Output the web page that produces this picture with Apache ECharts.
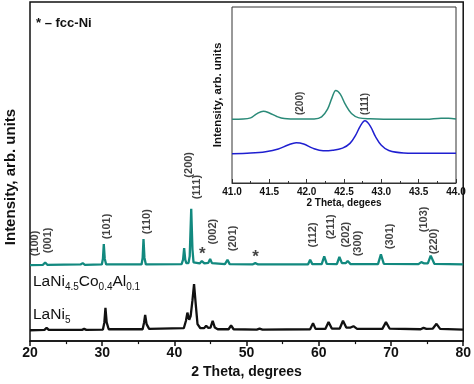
<!DOCTYPE html>
<html><head><meta charset="utf-8">
<script src="https://cdn.jsdelivr.net/npm/echarts@6/dist/echarts.min.js"></script>
<style>html,body{margin:0;padding:0;background:#fff}#c{width:474px;height:384px}</style>
</head><body><div id="c"></div>
<script>
// ---- Main pattern: LaNi4.5Co0.4Al0.1 (teal), [2theta, intensity] ----
const alloyPattern = [
 [20,22.4],[21.8,22.5],[22.1,23.2],[22.4,22.5],[27.0,22.6],[27.3,23.0],[27.6,22.5],
 [29.95,22.6],[30.1,24.3],[30.22,28.6],[30.35,24.3],[30.55,22.6],
 [35.45,22.6],[35.6,24.5],[35.72,30.1],[35.85,24.6],[36.05,22.6],
 [41.0,22.7],[41.2,24.0],[41.35,27.4],[41.5,24.0],[41.65,23.0],[41.95,23.0],
 [42.12,25.0],[42.33,39.0],[42.5,27.0],[42.65,23.2],[43.5,22.9],[43.8,23.6],[44.15,22.9],
 [44.7,23.1],[44.95,24.2],[45.2,23.0],[47.0,22.7],[47.35,24.0],[47.65,22.7],
 [50.8,22.6],[51.2,23.0],[51.6,22.6],[58.5,22.6],[58.8,24.0],[59.1,22.7],
 [60.4,22.7],[60.75,25.0],[61.1,22.8],[62.5,22.7],[62.85,24.8],[63.2,23.0],
 [63.75,23.0],[64.0,23.6],[64.4,22.7],[68.2,22.7],[68.6,25.6],[69.0,22.8],
 [73.8,22.7],[74.2,23.3],[74.6,22.9],[75.1,22.9],[75.5,25.2],[76.0,22.8],[80,22.6]
];
// ---- Main pattern: LaNi5 (black) ----
const lani5Pattern = [
 [20,3.2],[22.0,3.3],[22.3,3.9],[22.6,3.3],[27.2,3.3],[27.5,3.6],[27.8,3.3],
 [30.1,3.4],[30.3,5.5],[30.45,9.8],[30.62,5.5],[30.9,3.5],
 [35.6,3.5],[35.8,5.5],[35.95,7.7],[36.15,5.0],[36.5,3.6],
 [41.3,3.8],[41.6,6.0],[41.8,8.4],[42.05,6.3],[42.25,7.4],[42.5,12.0],[42.72,16.8],
 [42.95,11.0],[43.2,5.0],[43.6,3.8],[44.1,3.8],[44.4,4.5],[44.7,3.9],[45.0,4.0],
 [45.3,6.0],[45.6,4.0],[46.0,3.5],[47.5,3.5],[47.85,4.6],[48.2,3.5],
 [51.4,3.4],[51.8,3.7],[52.2,3.4],[58.8,3.5],[59.2,5.3],[59.55,3.6],
 [60.9,3.6],[61.35,5.6],[61.8,3.7],[62.9,3.7],[63.35,6.0],[63.8,4.0],
 [64.4,4.0],[64.8,4.4],[65.3,3.6],[68.8,3.6],[69.3,5.6],[69.8,3.7],
 [74.1,3.5],[74.5,3.9],[74.9,3.6],[75.8,3.7],[76.3,5.1],[76.8,3.6],[80,3.4]
];
// ---- Inset patterns (41-44 deg) ----
const insetAlloy = [
 [41.0,36.2],[41.15,36.3],[41.25,37.0],[41.33,39.3],[41.42,40.8],[41.5,39.8],[41.6,37.8],
 [41.7,36.6],[41.9,36.3],[42.1,36.4],[42.2,37.6],[42.28,42],[42.34,48.5],[42.39,52.6],
 [42.45,50.5],[42.52,44.5],[42.6,39.5],[42.7,37.0],[42.85,36.5],[43.2,36.2],[43.6,36.2],
 [43.8,36.8],[43.9,36.8],[44.0,36.4]
];
const insetLaNi5 = [
 [41.0,16.6],[41.25,17.0],[41.45,17.8],[41.62,19.3],[41.75,21.6],[41.86,22.9],[41.96,22.2],
 [42.08,19.8],[42.22,18.3],[42.35,18.6],[42.48,19.8],[42.58,22.5],[42.66,27.5],[42.72,32.5],
 [42.78,35.3],[42.85,32.5],[42.92,26.5],[43.0,21.5],[43.1,18.5],[43.3,17.1],[43.6,16.9],[44.0,16.9]
];
// ---- Annotations ----
const hklText = ['(100)','(001)','(101)','(110)','(200)','(111)','(002)','(201)','(112)','(211)','(202)','(300)','(301)','(103)','(220)'];
const hklX    = [20.69,22.48,30.6,36.24,42.02,43.12,45.32,48.07,59.22,61.70,63.76,65.41,69.82,74.63,76.01];
const hklY    = [25.0,25.9,30.0,31.5,48.2,41.8,28.5,26.5,27.6,30.0,27.6,25.0,27.1,32.1,25.6];
const starX   = [43.85,51.24];
const starY   = [26.8,25.9];
const insetHklText = ['(200)','(111)'];
const insetHklX = [41.91,42.79];
const insetHklY = [38.6,38.6];

const xTicks = [20,30,40,50,60,70,80];
const insetTicks = [41.0,41.5,42.0,42.5,43.0,43.5,44.0];

const FONT = '"Liberation Sans", Arial, sans-serif';
const TEAL = '#12897f';
const chart = echarts.init(document.getElementById('c'), null, {renderer:'canvas'});

// layout of formula text with subscripts
const mctx = document.createElement('canvas').getContext('2d');
function formula(x, baseY, parts, fs, sfs) {
  const els = []; let cx = x;
  parts.forEach(p => {
    const s = p[1] ? sfs : fs;
    mctx.font = s + 'px ' + FONT;
    const yb = p[1] ? baseY + 3.5 : baseY;
    els.push({type:'text', x: cx, y: yb - 0.35*s, style:{text:p[0], font: s+'px '+FONT, fill:'#111', verticalAlign:'middle', align:'left'}});
    cx += mctx.measureText(p[0]).width;
  });
  return els;
}

const labelSeries = (name, xi, yi, xs, ys, texts, fs) => ({
  type:'scatter', name, xAxisIndex: xi, yAxisIndex: yi, symbolSize: 0, silent:true,
  data: xs.map((v,i)=>[v, ys[i], texts[i]]),
  label:{show:true, formatter: p=>p.data[2], rotate:90, position:[0,0], align:'left', verticalAlign:'middle',
    fontFamily: FONT, fontWeight:'bold', fontSize: fs, color:'#111'}
});

chart.setOption({
  animation:false,
  backgroundColor:'#fff',
  grid:[
    {left:30, right:8, top:2, bottom:42, show:true, borderColor:'#111', borderWidth:1.5, backgroundColor:'transparent'},
    {left:232, right:18, top:7, bottom:201, show:true, borderColor:'#333', borderWidth:1, backgroundColor:'#fff', z:5}
  ],
  xAxis:[
    {type:'value', gridIndex:0, min:20, max:80, interval:10,
     axisLine:{show:true, onZero:false, lineStyle:{color:'#111', width:1.5}},
     axisTick:{show:true, inside:false, length:5, lineStyle:{color:'#111', width:1.5}},
     minorTick:{show:true, splitNumber:2, length:3, lineStyle:{color:'#111', width:1.2}},
     splitLine:{show:false},
     axisLabel:{fontFamily:FONT, fontWeight:'bold', fontSize:14, color:'#111', margin:5,
       formatter: v => xTicks.includes(v) ? String(v) : ''},
     name:'2 Theta, degrees', nameLocation:'middle', nameGap:21,
     nameTextStyle:{fontFamily:FONT, fontWeight:'bold', fontSize:14, color:'#111'}},
    {type:'value', gridIndex:1, min:41, max:44, interval:0.5, z:6,
     axisLine:{show:true, onZero:false, lineStyle:{color:'#333', width:1}},
     axisTick:{show:true, inside:true, length:4, lineStyle:{color:'#333'}},
     minorTick:{show:true, splitNumber:2, length:2, lineStyle:{color:'#333'}},
     splitLine:{show:false},
     axisLabel:{fontFamily:FONT, fontWeight:'bold', fontSize:10, color:'#111', margin:4,
       formatter: v => insetTicks.some(t=>Math.abs(t-v)<1e-6) ? v.toFixed(1) : ''},
     name:'2 Theta, degees', nameLocation:'middle', nameGap:15,
     nameTextStyle:{fontFamily:FONT, fontWeight:'bold', fontSize:10, color:'#111'}}
  ],
  yAxis:[
    {type:'value', gridIndex:0, min:0, max:100, show:false},
    {type:'value', gridIndex:1, min:0, max:100, show:false}
  ],
  series:[
    {type:'line', xAxisIndex:0, yAxisIndex:0, data:alloyPattern, showSymbol:false, smooth:false,
     lineStyle:{color:TEAL, width:2.3}, itemStyle:{color:TEAL}},
    {type:'line', xAxisIndex:0, yAxisIndex:0, data:lani5Pattern, showSymbol:false, smooth:false,
     lineStyle:{color:'#111', width:2.3}, itemStyle:{color:'#111'}},
    {type:'line', xAxisIndex:1, yAxisIndex:1, data:insetAlloy, showSymbol:false, smooth:0.35, z:7,
     lineStyle:{color:'#2a8a78', width:1.5}},
    {type:'line', xAxisIndex:1, yAxisIndex:1, data:insetLaNi5, showSymbol:false, smooth:0.35, z:7,
     lineStyle:{color:'#1f1fd0', width:1.5}},
    labelSeries('hkl',0,0,hklX,hklY,hklText,11),
    Object.assign(labelSeries('inhkl',1,1,insetHklX,insetHklY,insetHklText,10),{z:8}),
    {type:'scatter', xAxisIndex:0, yAxisIndex:0, symbolSize:0, silent:true,
     data: starX.map((v,i)=>[v, starY[i]]),
     label:{show:true, formatter:'*', position:[0,0], align:'center', verticalAlign:'middle',
       fontFamily:FONT, fontWeight:'bold', fontSize:17, color:'#111', offset:[0,4]}}
  ],
  graphic:[
    {type:'text', x:11, y:177, rotation:Math.PI/2,
     style:{text:'Intensity, arb. units', font:'bold 15px '+FONT, fill:'#111', align:'center', verticalAlign:'middle'}},
    {type:'text', x:218, y:95, rotation:Math.PI/2, z:10,
     style:{text:'Intensity, arb. units', font:'bold 11.5px '+FONT, fill:'#111', align:'center', verticalAlign:'middle'}},
    {type:'text', x:36, y:23,
     style:{text:'* \u2013 fcc-Ni', font:'bold 13px '+FONT, fill:'#111', align:'left', verticalAlign:'middle'}},
    ...formula(33, 287, [['LaNi',0],['4.5',1],['Co',0],['0.4',1],['Al',0],['0.1',1]], 15.5, 10),
    ...formula(33, 320, [['LaNi',0],['5',1]], 15.5, 10)
  ]
});
</script></body></html>
